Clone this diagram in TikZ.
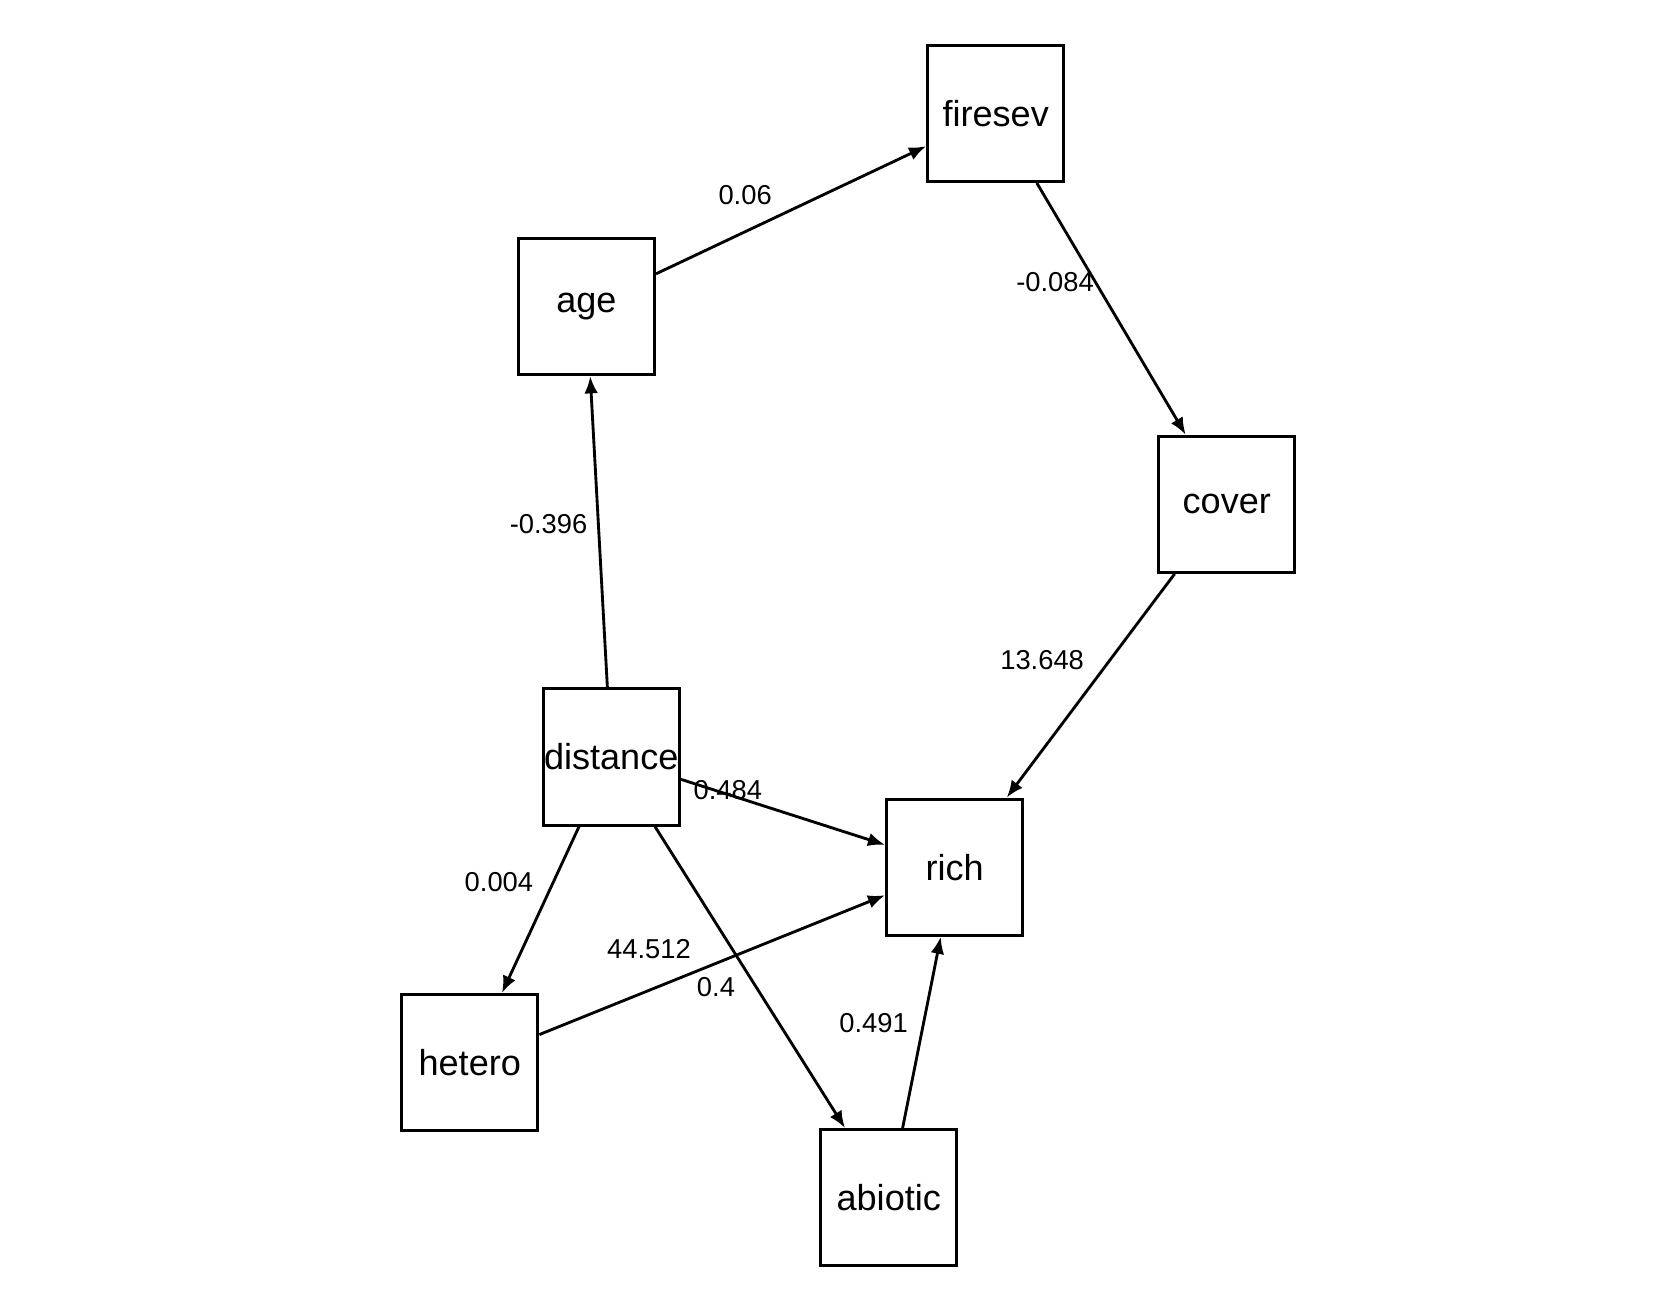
\documentclass[tikz,border=0pt]{standalone}
\usepackage{fontspec}
\setmainfont{Liberation Sans}
\usetikzlibrary{arrows.meta}
\tikzset{
  var/.style={draw,line width=0.8pt,minimum size=1.26cm,inner sep=0pt,font=\fontsize{9.5}{11}\selectfont},
  path/.style={-{Latex[length=4.5pt,width=3.6pt]},line width=0.75pt},
  coef/.style={font=\fontsize{7.2}{9}\selectfont,inner sep=0pt}
}
\begin{document}
\begin{tikzpicture}[x=0.01cm,y=-0.01cm]
\useasboundingbox (0,0) rectangle (1552,1198);
% variables
\node[var] (firesev) at (922,105) {firesev};
\node[var] (age) at (543,284) {age};
\node[var] (cover) at (1136,467) {cover};
\node[var] (distance) at (566,701) {distance};
\node[var] (rich) at (884,803) {rich};
\node[var] (hetero) at (435,984) {hetero};
\node[var] (abiotic) at (823,1109) {abiotic};

% paths
\draw[path] (age) -- (firesev);
\draw[path] (firesev) -- (cover);
\draw[path] (distance) -- (age);
\draw[path] (cover) -- (rich);
\draw[path] (distance) -- (rich);
\draw[path] (distance) -- (hetero);
\draw[path] (hetero) -- (rich);
\draw[path] (distance) -- (abiotic);
\draw[path] (abiotic) -- (rich);

% coefficients
\node[coef] (c1) at (690,181) {0.06};
\node[coef] (c2) at (977,261) {-0.084};
\node[coef] (c3) at (508,485) {-0.396};
\node[coef] (c4) at (965,611) {13.648};
\node[coef] (c5) at (674,732) {0.484};
\node[coef] (c6) at (462,817) {0.004};
\node[coef] (c7) at (601,879) {44.512};
\node[coef] (c8) at (663,914) {0.4};
\node[coef] (c9) at (809,947) {0.491};
\end{tikzpicture}
\end{document}
